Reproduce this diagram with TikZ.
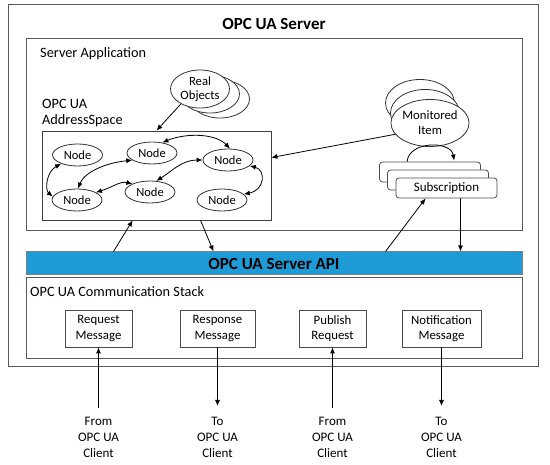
\documentclass[tikz,border=0pt]{standalone}
\usepackage{fontspec}
\setmainfont{Carlito}
\usetikzlibrary{shapes.geometric,arrows.meta,calc}
\definecolor{apiblue}{RGB}{30,155,215}
\definecolor{frameg}{RGB}{90,90,90}
\begin{document}
\begin{tikzpicture}[x=1pt,y=-1pt,
  txt/.style={font=\fontsize{12.5}{15}\selectfont, align=center},
  frame/.style={rectangle, draw=frameg, line width=1pt, inner sep=0pt},
  ell/.style={ellipse, draw=black!80, fill=white, line width=0.8pt, inner sep=0pt, txt},
  nd/.style={ell, minimum width=50pt, minimum height=22pt},
  subbox/.style={rectangle, rounded corners=3pt, draw=black!70, fill=white, line width=0.8pt, minimum width=101pt, minimum height=20pt, inner sep=0pt, txt, font=\fontsize{13}{15}\selectfont},
  msg/.style={rectangle, draw=black!70, line width=0.8pt, fill=white, inner sep=0pt, minimum height=37pt, txt, font=\fontsize{12.8}{15.5}\selectfont},
  arr/.style={-{Latex[length=6pt,width=5pt]}, line width=0.8pt},
  darr/.style={{Latex[length=6pt,width=5pt]}-{Latex[length=6pt,width=5pt]}, line width=0.8pt},
  lbl/.style={anchor=west, align=left, inner sep=0pt, font=\fontsize{14.3}{16}\selectfont},
  client/.style={align=center, inner sep=0pt, font=\fontsize{13}{16}\selectfont},
  bigbold/.style={font=\fontsize{17}{19}\selectfont\bfseries}]
\useasboundingbox (0,0) rectangle (550,465);

% frames
\node[frame, minimum width=530pt, minimum height=362pt] (server) at (273,186) {};
\node[bigbold] (title) at (274,24) {OPC UA Server};
\node[frame, minimum width=496pt, minimum height=192pt] (app) at (274,135) {};
\node[lbl] (applbl) at (40,54) {Server Application};
\node[frame, fill=apiblue, draw=black!50, minimum width=496pt, minimum height=23pt, bigbold] (api) at (274,263.5) {OPC UA Server API};
\node[frame, minimum width=496pt, minimum height=81pt] (comm) at (274,318.5) {};
\node[lbl] (commlbl) at (30,292) {OPC UA Communication Stack};

% address space
\node[lbl] (aslbl) at (42,113) {OPC UA\\AddressSpace};
\node[frame, draw=black!75, line width=0.8pt, minimum width=229pt, minimum height=89pt] (as) at (156.5,175.5) {};
\node[nd] (n1) at (77.5,155) {Node};
\node[nd] (n2) at (152,153) {Node};
\node[nd] (n3) at (228,160) {Node};
\node[nd] (n4) at (77,200) {Node};
\node[nd] (n5) at (150,192) {Node};
\node[nd] (n6) at (222,200) {Node};

\draw[darr] (n1.208) .. controls (46,172) and (45,190) .. (n4.172);
\draw[darr] (n4.85) .. controls (84,173) and (104,163) .. (n2.200);
\draw[darr] (n4.22) .. controls (113,187) and (120,181) .. (n5.155);
\draw[darr] (n2.45) .. controls (185,133) and (215,133) .. (n3.80);
\draw[darr] (n5.60) .. controls (172,171) and (182,160) .. (n3.180);
\draw[darr] (n3.345) .. controls (266,170) and (265,190) .. (n6.15);

% real objects
\node[ell, minimum width=59pt, minimum height=38pt] (ro3) at (220,99) {};
\node[ell, minimum width=59pt, minimum height=38pt] (ro2) at (210,94) {};
\node[ell, minimum width=59pt, minimum height=38pt, font=\fontsize{12.7}{14.5}\selectfont] (ro1) at (200,89) {Real\\Objects};
\draw[arr] (ro1.218) -- (as.north);

% monitored item
\node[ell, minimum width=69pt, minimum height=47pt] (mon3) at (420,103) {};
\node[ell, minimum width=69pt, minimum height=47pt] (mon2) at (425,113) {};
\node[ell, minimum width=69pt, minimum height=47pt, font=\fontsize{12.7}{15}\selectfont] (mon1) at (430,123) {Monitored\\Item};
\draw[arr] (mon1.198) -- ($(as.north east)!0.3!(as.south east)$);

% subscriptions
\node[subbox] (sub3) at (430,172) {};
\node[subbox] (sub2) at (438,180) {};
\node[subbox] (sub1) at (446.5,188) {Subscription};
\draw[arr] ($(sub3.north west)+(28,0)$) .. controls ($(sub3.north west)+(30,-21)$) and ($(sub3.north west)+(72,-21)$) .. ($(sub3.north west)+(75,-1)$);

% API connectors
\draw[arr] ($(api.north west)+(88,0)$) -- ($(as.south west)+(91,0)$);
\draw[arr] ($(as.south west)+(159,0)$) -- ($(api.north west)+(188,0)$);
\draw[arr] ($(api.north west)+(360,0)$) -- ($(sub1.south west)+(30,0)$);
\draw[arr] ($(sub1.south west)+(65,0)$) -- ($(api.north west)+(435,0)$);

% messages
\node[msg, minimum width=67pt] (req) at (98.5,328.5) {Request\\Message};
\node[msg, minimum width=75pt] (resp) at (217.5,328.5) {Response\\Message};
\node[msg, minimum width=67pt] (pub) at (332.5,328.5) {Publish\\Request};
\node[msg, minimum width=79pt] (noti) at (441.5,328.5) {Notification\\Message};

% clients
\node[client] (c1) at (98.5,437) {From\\OPC UA\\Client};
\node[client] (c2) at (217.5,437) {To\\OPC UA\\Client};
\node[client] (c3) at (332.5,437) {From\\OPC UA\\Client};
\node[client] (c4) at (441.5,437) {To\\OPC UA\\Client};
\coordinate (e1) at (98.5,408);
\coordinate (e2) at (217.5,406);
\coordinate (e3) at (332.5,408);
\coordinate (e4) at (441.5,406);
\draw[arr] (e1) -- (req.south);
\draw[arr] (resp.south) -- (e2);
\draw[arr] (e3) -- (pub.south);
\draw[arr] (noti.south) -- (e4);
\end{tikzpicture}
\end{document}
